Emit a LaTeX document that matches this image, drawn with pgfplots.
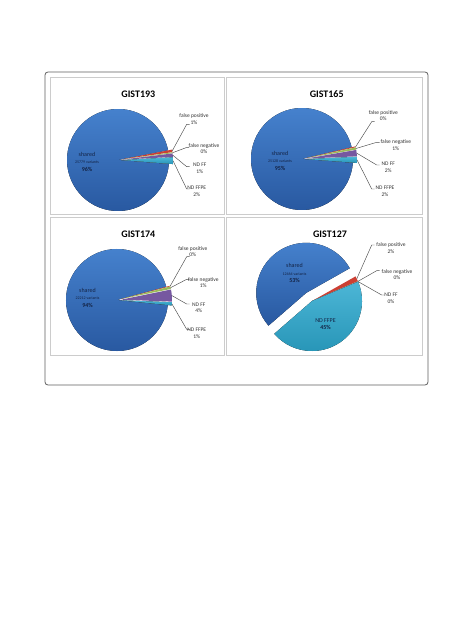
\documentclass[border=0pt]{standalone}
\usepackage{fontspec}
\setmainfont{Carlito}
\usepackage{pgfplots}
\usepackage{pgfplotstable}
\pgfplotsset{compat=1.18}

\definecolor{sharedtop}{RGB}{70,130,206}
\definecolor{sharedbot}{RGB}{40,88,160}
\definecolor{fpred}{RGB}{204,64,52}
\definecolor{fngreen}{RGB}{155,187,89}
\definecolor{ndffpurple}{RGB}{118,88,160}
\definecolor{ffpetop}{RGB}{76,182,214}
\definecolor{ffpebot}{RGB}{38,148,182}
\definecolor{labeltext}{RGB}{20,36,70}

\tikzset{
  slice0/.style={top color=sharedtop, bottom color=sharedbot},
  slice1/.style={fill=fpred},
  slice2/.style={fill=fngreen},
  slice3/.style={fill=ndffpurple},
  slice4/.style={top color=ffpetop, bottom color=ffpebot},
  leader/.style={draw=gray!60!black, line width=0.45pt},
  outlbl/.style={align=center, inner sep=0pt, text=black!80,
    font=\fontsize{5.5}{6.6}\selectfont},
  inlbl/.style={align=center, inner sep=0pt, text=labeltext,
    font=\fontsize{6}{7.5}\selectfont},
  pietitle/.style={font=\bfseries\fontsize{10}{12}\selectfont},
}

\pgfplotsset{
  pieax/.style={hide axis, x=1pt, y=1pt, xmin=-100, xmax=100,
    ymin=-100, ymax=100, enlargelimits=false, clip=false,
    anchor=center, scale only axis},
}

% values in %, explode, label centre, leader start, leader flag
\pgfplotstableread{
value explode lx ly tx ty lead
95.7 0 -31 -1.5 0 0 0
0.8 4 76 41 68.7 35.7 1
0.3 4 86 11.3 68 12.3 1
1.1 4 81.7 -8.3 68.7 -6.7 1
2.1 4 78.7 -31.3 68.7 -29 1
}\gistA

\pgfplotstableread{
value explode lx ly tx ty lead
95.1 0 -22 -1.8 0 0 0
0.3 4 81.3 43.3 69.7 37.3 1
0.7 4 93.8 13.7 74.7 16.7 1
2.0 4 86.3 -8.2 74.7 -6 1
1.9 4 83 -32.3 69.7 -30 1
}\gistB

\pgfplotstableread{
value explode lx ly tx ty lead
94.2 0 -29.5 2.5 0 0 0
0.2 4 75.8 48.3 69.7 43.3 1
0.8 4 86.3 17.5 69.7 20.7 1
3.8 4 81.7 -7.7 69.7 -4 1
1.0 4 79.7 -33 69.7 -29.3 1
}\gistC

\pgfplotstableread{
value explode lx ly tx ty lead
53.2 10 -17.5 28 0 0 0
1.7 0 79 53 59.7 56 1
0.1 0 85 26.5 64.7 30.3 1
0.1 0 79 2.7 69.7 6 1
44.9 0 13.5 -23 0 0 0
}\gistD

\newcommand\slicename[1]{\ifcase#1 shared\or false positive\or false negative\or ND FF\or ND FFPE\fi}

% #1 table, #2 start angle (clockwise from here), #3 radius, #4 variants
\newcommand\drawpie[4]{%
  \pgfplotstablegetrowsof{#1}%
  \pgfmathtruncatemacro\lastrow{\pgfplotsretval-1}%
  \xdef\curang{#2}%
  \foreach \i in {0,...,\lastrow}{%
    \pgfplotstablegetelem{\i}{value}\of{#1}\let\pv\pgfplotsretval
    \pgfplotstablegetelem{\i}{explode}\of{#1}\let\pex\pgfplotsretval
    \pgfplotstablegetelem{\i}{lx}\of{#1}\let\plx\pgfplotsretval
    \pgfplotstablegetelem{\i}{ly}\of{#1}\let\ply\pgfplotsretval
    \pgfplotstablegetelem{\i}{tx}\of{#1}\let\ptx\pgfplotsretval
    \pgfplotstablegetelem{\i}{ty}\of{#1}\let\pty\pgfplotsretval
    \pgfplotstablegetelem{\i}{lead}\of{#1}\let\plead\pgfplotsretval
    \pgfmathsetmacro\aone{\curang}%
    \pgfmathsetmacro\atwo{\curang-3.6*\pv}%
    \pgfmathsetmacro\amid{(\aone+\atwo)/2}%
    \pgfmathsetmacro\ox{\pex*cos(\amid)}%
    \pgfmathsetmacro\oy{\pex*sin(\amid)}%
    \pgfmathsetmacro\sx{\ox+#3*cos(\aone)}%
    \pgfmathsetmacro\sy{\oy+#3*sin(\aone)}%
    \pgfmathsetmacro\rx{(\pex+#3)*cos(\amid)}%
    \pgfmathsetmacro\ry{(\pex+#3)*sin(\amid)}%
    \pgfmathsetmacro\hx{\ptx+3}%
    \pgfmathtruncatemacro\pct{round(\pv)}%
    \fill[slice\i] (axis cs:\ox,\oy) -- (axis cs:\sx,\sy)
      arc[start angle=\aone, end angle=\atwo, radius=#3pt] -- cycle;
    \ifnum\plead=1
      \draw[leader] (axis cs:\hx,\pty) -- (axis cs:\ptx,\pty) -- (axis cs:\rx,\ry);
      \node[outlbl] at (axis cs:\plx,\ply) {\slicename{\i}\\\pct\%};
    \else
      \ifnum\i=0
        \node[inlbl] at (axis cs:\plx,\ply)
          {shared\\{\fontsize{4}{5}\selectfont #4 variants}\\\textbf{\pct\%}};
      \else
        \node[inlbl] at (axis cs:\plx,\ply) {\slicename{\i}\\\textbf{\pct\%}};
      \fi
    \fi
    \xdef\curang{\atwo}%
  }%
}

\begin{document}
\begin{tikzpicture}
\fill[white] (0,0) rectangle (474pt,-631pt);
\useasboundingbox (0,0) rectangle (474pt,-631pt);

% frame and panels
\draw[gray!75!black, line width=0.8pt, rounded corners=3pt]
  (45pt,-72pt) rectangle (428pt,-385pt);
\begin{scope}[draw=gray!40, line width=0.6pt]
  \draw (50pt,-77pt) rectangle (224pt,-214pt);
  \draw (226.5pt,-77pt) rectangle (422pt,-214pt);
  \draw (50pt,-217pt) rectangle (224pt,-355pt);
  \draw (226.5pt,-217pt) rectangle (422pt,-355pt);
\end{scope}

\begin{axis}[pieax, at={(118pt,-160pt)}]
  \pgfplotsextra{\drawpie{\gistA}{-4.5}{51}{25779}}
  \node[pietitle] at (axis cs:20.3,65.7) {GIST193};
\end{axis}

\begin{axis}[pieax, at={(302pt,-159pt)}]
  \pgfplotsextra{\drawpie{\gistB}{-4.3}{51}{25128}}
  \node[pietitle] at (axis cs:24.7,64.7) {GIST165};
\end{axis}

\begin{axis}[pieax, at={(117pt,-300pt)}]
  \pgfplotsextra{\drawpie{\gistC}{-5.8}{51}{22212}}
  \node[pietitle] at (axis cs:21.3,66) {GIST174};
\end{axis}

\begin{axis}[pieax, at={(312pt,-301pt)}]
  \pgfplotsextra{\drawpie{\gistD}{221}{50}{12464}}
  \node[pietitle] at (axis cs:18,67) {GIST127};
\end{axis}
\end{tikzpicture}
\end{document}
